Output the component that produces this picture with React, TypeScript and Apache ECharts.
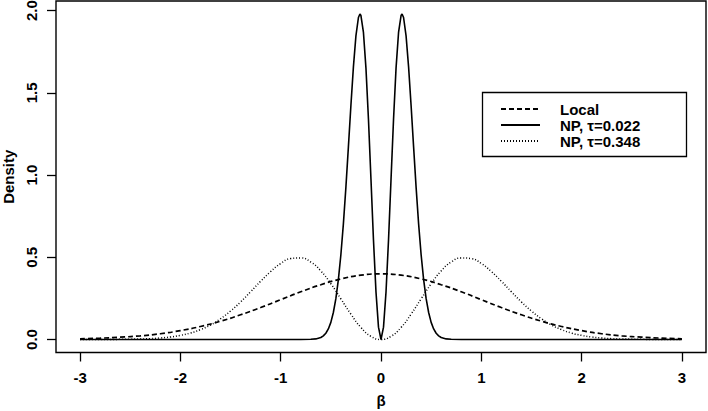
import React, { useEffect, useRef } from "react";
import * as echarts from "echarts";

const FONT = "'Liberation Sans', Arial, Helvetica, sans-serif";

// Local prior (dashed), every 0.2
const localX = [
  -3, -2.8, -2.6, -2.4, -2.2, -2, -1.8, -1.6, -1.4, -1.2, -1, -0.8, -0.6, -0.4, -0.2, 0,
  0.2, 0.4, 0.6, 0.8, 1, 1.2, 1.4, 1.6, 1.8, 2, 2.2, 2.4, 2.6, 2.8, 3,
];
const localY = [
  0.004, 0.008, 0.014, 0.022, 0.035, 0.054, 0.079, 0.111, 0.15, 0.194, 0.242, 0.29, 0.333, 0.368, 0.391, 0.399,
  0.391, 0.368, 0.333, 0.29, 0.242, 0.194, 0.15, 0.111, 0.079, 0.054, 0.035, 0.022, 0.014, 0.008, 0.004,
];

// NP, tau = 0.022 (solid), narrow twin peaks
const np022X = [
  -3, -2, -1, -0.8, -0.7, -0.65, -0.6, -0.575, -0.55, -0.525, -0.5, -0.475, -0.45, -0.425, -0.4, -0.375,
  -0.35, -0.325, -0.3, -0.275, -0.25, -0.225, -0.21, -0.2, -0.175, -0.15, -0.125, -0.1, -0.075, -0.05, -0.025,
  0,
  0.025, 0.05, 0.075, 0.1, 0.125, 0.15, 0.175, 0.2, 0.21, 0.225, 0.25, 0.275, 0.3, 0.325, 0.35,
  0.375, 0.4, 0.425, 0.45, 0.475, 0.5, 0.525, 0.55, 0.575, 0.6, 0.65, 0.7, 0.8, 1, 2, 3,
];
const np022Y = [
  0, 0, 0, 0, 0.001, 0.0035, 0.012, 0.022, 0.038, 0.064, 0.104, 0.164, 0.248, 0.364, 0.515, 0.703,
  0.925, 1.171, 1.423, 1.658, 1.846, 1.958, 1.979, 1.97, 1.867, 1.65, 1.339, 0.974, 0.605, 0.289, 0.075,
  0,
  0.075, 0.289, 0.605, 0.974, 1.339, 1.65, 1.867, 1.97, 1.979, 1.958, 1.846, 1.658, 1.423, 1.171, 0.925,
  0.703, 0.515, 0.364, 0.248, 0.164, 0.104, 0.064, 0.038, 0.022, 0.012, 0.0035, 0.001, 0, 0, 0, 0,
];

// NP, tau = 0.348 (dotted), every 0.1
const np348X = [
  -3, -2.9, -2.8, -2.7, -2.6, -2.5, -2.4, -2.3, -2.2, -2.1, -2, -1.9, -1.8, -1.7, -1.6, -1.5,
  -1.4, -1.3, -1.2, -1.1, -1, -0.9, -0.8, -0.7, -0.6, -0.5, -0.4, -0.3, -0.2, -0.1, 0,
  0.1, 0.2, 0.3, 0.4, 0.5, 0.6, 0.7, 0.8, 0.9, 1, 1.1, 1.2, 1.3, 1.4, 1.5,
  1.6, 1.7, 1.8, 1.9, 2, 2.1, 2.2, 2.3, 2.4, 2.5, 2.6, 2.7, 2.8, 2.9, 3,
];
const np348Y = [
  0, 0, 0, 0, 0.001, 0.002, 0.003, 0.005, 0.009, 0.015, 0.025, 0.039, 0.06, 0.088, 0.126, 0.173,
  0.228, 0.29, 0.354, 0.413, 0.462, 0.492, 0.496, 0.471, 0.417, 0.339, 0.247, 0.154, 0.073, 0.019, 0,
  0.019, 0.073, 0.154, 0.247, 0.339, 0.417, 0.471, 0.496, 0.492, 0.462, 0.413, 0.354, 0.29, 0.228, 0.173,
  0.126, 0.088, 0.06, 0.039, 0.025, 0.015, 0.009, 0.005, 0.003, 0.002, 0.001, 0, 0, 0, 0,
];

const xTicks = [-3, -2, -1, 0, 1, 2, 3];
const yTicks = [0, 0.5, 1, 1.5, 2];
const seriesNames = ["Local", "NP, τ=0.022", "NP, τ=0.348"];

const pairs = (xs: number[], ys: number[]) => xs.map((x, i) => [x, ys[i]]);

const App = () => {
  const chartRef = useRef<HTMLDivElement>(null);

  useEffect(() => {
    document.body.style.margin = "0";
    const chart = echarts.init(chartRef.current, null, { renderer: "svg" });

    const labelStyle = { color: "#000", fontSize: 15, fontWeight: "bold", fontFamily: FONT };
    const tickStyle = { color: "#000", width: 1.3 };

    chart.setOption({
      animation: false,
      backgroundColor: "#fff",
      grid: {
        left: 56,
        top: 1,
        right: 2,
        bottom: 58.5,
        outerBoundsMode: "none",
        containLabel: false,
        show: true,
        borderColor: "#000",
        borderWidth: 1.4,
      },
      legend: {
        orient: "vertical",
        left: 500,
        top: 101,
        padding: 0,
        itemWidth: 39,
        itemHeight: 16,
        itemGap: 0,
        selectedMode: false,
        data: seriesNames,
        // hide the default circle marker, keep the line sample only
        itemStyle: { opacity: 0 },
        textStyle: { ...labelStyle, lineHeight: 16, padding: [0, 0, 0, 15] },
      },
      graphic: [
        {
          type: "rect",
          shape: { x: 482.5, y: 92.5, width: 204, height: 64 },
          style: { fill: "none", stroke: "#000", lineWidth: 1.3 },
        },
      ],
      xAxis: {
        type: "value",
        min: -3.24,
        max: 3.24,
        name: "β",
        nameLocation: "middle",
        nameGap: 40,
        nameTextStyle: labelStyle,
        splitLine: { show: false },
        axisLine: { show: false, onZero: false },
        axisTick: { show: true, length: 9, customValues: xTicks, lineStyle: tickStyle },
        axisLabel: { ...labelStyle, customValues: xTicks, margin: 17, formatter: (v: number) => String(v) },
      },
      yAxis: {
        type: "value",
        min: -0.0792,
        max: 2.0583,
        name: "Density",
        nameLocation: "middle",
        nameGap: 40,
        nameTextStyle: labelStyle,
        splitLine: { show: false },
        axisLine: { show: false, onZero: false },
        axisTick: { show: true, length: 9, customValues: yTicks, lineStyle: tickStyle },
        axisLabel: {
          ...labelStyle,
          customValues: yTicks,
          rotate: 90,
          margin: 17,
          formatter: (v: number) => v.toFixed(1),
        },
      },
      series: [
        {
          name: seriesNames[0],
          type: "line",
          symbol: "none",
          smooth: true,
          data: pairs(localX, localY),
          itemStyle: { color: "#000" },
          lineStyle: { color: "#000", width: 1.7, type: [5, 3] },
        },
        {
          name: seriesNames[1],
          type: "line",
          symbol: "none",
          data: pairs(np022X, np022Y),
          itemStyle: { color: "#000" },
          lineStyle: { color: "#000", width: 1.6, type: "solid" },
        },
        {
          name: seriesNames[2],
          type: "line",
          symbol: "none",
          smooth: true,
          data: pairs(np348X, np348Y),
          itemStyle: { color: "#000" },
          lineStyle: { color: "#000", width: 1.5, type: [1, 2] },
        },
      ],
    });

    return () => chart.dispose();
  }, []);

  return <div ref={chartRef} style={{ width: "708px", height: "411px" }} />;
};

export default App;
